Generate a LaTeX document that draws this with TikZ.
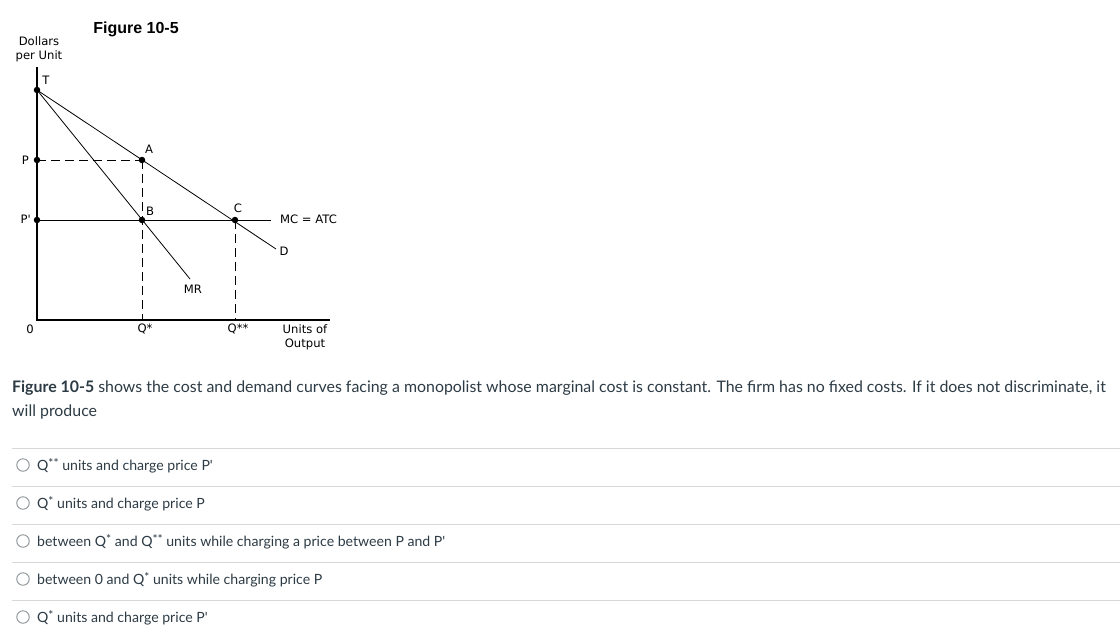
\documentclass[tikz,border=0pt]{standalone}
\usepackage{fontspec}
\setmainfont{Lato}
\newfontfamily\graphfont{DejaVu Sans}
\newfontfamily\titlefont{Liberation Sans}
\usepackage{xcolor}
\usetikzlibrary{positioning}
\definecolor{bodytext}{HTML}{2D3B45}
\definecolor{sepline}{HTML}{D5D9DC}
\definecolor{radio}{HTML}{8A9196}
\newcommand\qstars[1]{\raisebox{0.3ex}{\fontsize{12}{12}\selectfont #1}}

\begin{document}
\begin{tikzpicture}[
      x=1pt, y=-1pt,
      axis/.style={line width=2.6pt},
      curve/.style={line width=0.8pt},
      guide/.style={line width=0.8pt, dash pattern=on 9pt off 5pt},
      dot/.style={circle, fill, inner sep=0pt, minimum size=6.5pt},
      lbl/.style={font=\graphfont\fontsize{11.6}{14}\selectfont, inner sep=1pt, align=center},
      body/.style={font=\fontsize{15.9}{19}\selectfont, text=bodytext, anchor=base west, inner sep=0pt},
      choice/.style={font=\fontsize{14.1}{17}\selectfont, text=bodytext, anchor=base west, inner sep=0pt},
      radiobtn/.style={circle, draw=radio, line width=0.9pt, minimum size=12.5pt, inner sep=0pt},
      rule/.style={draw=sepline, line width=0.9pt}
    ]
    \useasboundingbox[fill=white] (0,0) rectangle (1120,641);

    % Graph points
    \coordinate (ytop) at (37,67);
    \coordinate (O) at (37,320);
    \coordinate (xend) at (330,320);
    \node[dot] (T) at (37,90) {};
    \node[dot] (P) at (37,160) {};
    \node[dot] (Pp) at (37,220) {};
    \node[dot] (A) at (142,160) {};
    \node[dot] (B) at (142,220) {};
    \node[dot] (C) at (235,220) {};
    \coordinate (Qs) at (142,320);
    \coordinate (Qss) at (235,320);
    \coordinate (Dend) at (276,249);
    \coordinate (MRend) at (190,279);
    \coordinate (MCend) at (271,220);

    % Curves
    \draw[curve] (T.center) -- (Dend);
    \draw[curve] (T.center) -- (MRend);
    \draw[curve] (Pp.center) -- (MCend);
    \draw[guide] (P.center) -- (A.center);
    \draw[guide] (A.center) -- (Qs);
    \draw[guide] (C.center) -- (Qss);
    \draw[axis] (ytop) -- (O) -- (xend);

    % Labels
    \node[font=\titlefont\bfseries\fontsize{16}{19}\selectfont] (title) at (136,29) {Figure 10-5};
    \node[lbl] (yname) at (39,49) {Dollars\\per Unit};
    \node[lbl] (Tlbl) at (46,80) {T};
    \node[lbl, left=7pt of P.center] (Plbl) {P};
    \node[lbl, left=5pt of Pp.center, yshift=1pt] (Pplbl) {P'};
    \node[lbl] (Albl) at (149,149) {A};
    \node[lbl] (Blbl) at (150,211) {B};
    \node[lbl] (Clbl) at (238,208) {C};
    \node[lbl, anchor=west] (MClbl) at (279,219) {MC = ATC};
    \node[lbl] (Dlbl) at (284,251) {D};
    \node[lbl] (MRlbl) at (193,289) {MR};
    \node[lbl] (Olbl) at (30,329) {0};
    \node[lbl] (Qslbl) at (145,329) {Q*};
    \node[lbl] (Qsslbl) at (238,329) {Q**};
    \node[lbl] (xname) at (305,337) {Units of\\Output};

    % Question
    \node[body] (q1) at (12,392) {\textbf{Figure 10-5} shows the cost and demand curves facing a monopolist whose marginal cost is constant. The firm has no fixed costs. If it does not discriminate, it};
    \node[body] (q2) at (12,416) {will produce};

    % Answer choices
    \foreach \yy/\txt [count=\i] in {
        465/{Q\qstars{**} units and charge price P\textquotesingle},
        503/{Q\qstars{*} units and charge price P},
        541/{between Q\qstars{*} and Q\qstars{**} units while charging a price between P and P\textquotesingle},
        579/{between 0 and Q\qstars{*} units while charging price P},
        617/{Q\qstars{*} units and charge price P\textquotesingle}} {
      \draw[rule] (12,\yy-17) -- (1120,\yy-17);
      \node[radiobtn] (r\i) at (23,\yy) {};
      \node[choice] (c\i) at (37,\yy+5) {\txt};
    }
  \end{tikzpicture}
\end{document}
